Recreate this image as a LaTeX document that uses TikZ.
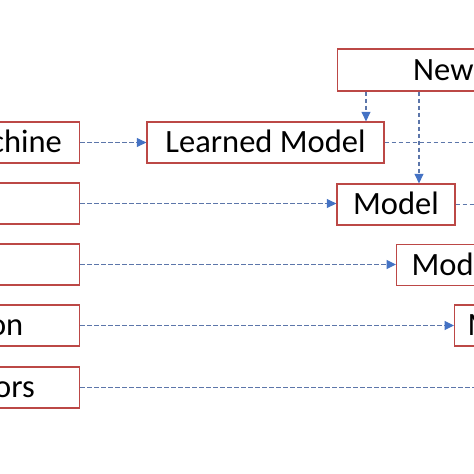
\documentclass[tikz,border=0pt]{standalone}
\usepackage{fontspec}
\setmainfont{Carlito}
\usetikzlibrary{arrows.meta}
\definecolor{boxred}{RGB}{188,72,70}
\definecolor{arrblue}{RGB}{68,114,196}
\definecolor{dashblue}{RGB}{92,118,170}
\tikzset{
  box/.style={draw=boxred, line width=1.3pt, fill=white, minimum height=41pt, inner sep=0pt},
  lbl/.style={font=\fontsize{32.5}{36}\selectfont, text height=20.9pt, text depth=0pt, inner sep=0pt},
  arr/.style={draw=dashblue, line width=1.1pt, dash pattern=on 4.5pt off 2.5pt,
    -{Triangle[length=9.5pt,width=9pt,color=arrblue]}},
  lnk/.style={draw=dashblue, line width=1.1pt, dash pattern=on 4.5pt off 2.5pt}
}
\begin{document}
\begin{tikzpicture}[x=1pt,y=1pt]
\useasboundingbox (0,0) rectangle (474,-474);
% left boxes (cut by the left edge)
\node[box, anchor=east, minimum width=200pt] (l1) at (80,-142.5) {};
\node[box, anchor=east, minimum width=200pt] (l2) at (80,-203.5) {};
\node[box, anchor=east, minimum width=200pt] (l3) at (80,-264.5) {};
\node[box, anchor=east, minimum width=200pt] (l4) at (80,-325.5) {};
\node[box, anchor=east, minimum width=200pt] (l5) at (80,-387.5) {};
\node[lbl, anchor=east] (t1) at (62,-142.5) {chine};
\node[lbl, anchor=east] (t4) at (23.5,-325.5) {on};
\node[lbl, anchor=east] (t5) at (35,-387.5) {ors};
% middle boxes
\node[box, minimum width=237pt, lbl] (lm) at (265.5,-142.5) {Learned Model};
\node[box, minimum width=118pt, lbl] (md) at (396,-204.5) {Model};
% right boxes (cut by the right edge)
\node[box, anchor=west, minimum width=200pt, minimum height=42pt] (nw) at (337,-70) {};
\node[box, anchor=west, minimum width=200pt] (mo) at (396,-265) {};
\node[box, anchor=west, minimum width=200pt] (mm) at (454,-325.5) {};
\node[lbl, anchor=west] (tn) at (413,-70) {New};
\node[lbl, anchor=west] (tm) at (411.5,-265) {Mod};
\node[lbl, anchor=west] (tmm) at (467.5,-325.5) {M};
% free ends
\coordinate (e1) at (490,-142.5);
\coordinate (e2) at (490,-204.5);
\coordinate (e5) at (490,-387.5);
\coordinate (x1) at (366,0);
\coordinate (x2) at (419,0);
% connectors
\draw[arr] (l1.east) -- (lm.west);
\draw[arr] (l2.east) -- (l2.east -| md.west);
\draw[arr] (l3.east) -- (l3.east -| mo.west);
\draw[arr] (l4.east) -- (mm.west);
\draw[lnk] (l5.east) -- (e5);
\draw[lnk] (lm.east) -- (e1);
\draw[lnk] (md.east) -- (e2);
\draw[arr] (x1 |- nw.south) -- (x1 |- lm.north);
\draw[arr] (x2 |- nw.south) -- (x2 |- md.north);
\end{tikzpicture}
\end{document}
